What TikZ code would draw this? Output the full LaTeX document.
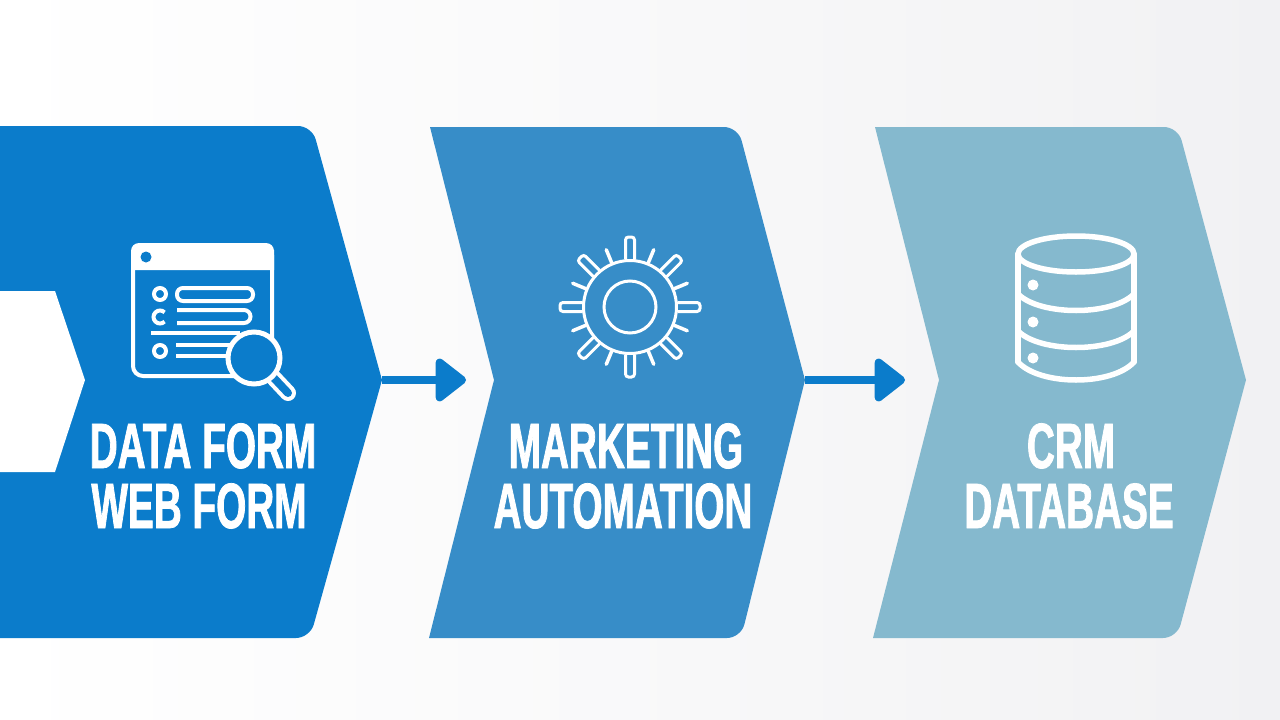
\documentclass[tikz,border=0pt]{standalone}
\usepackage{fontspec}
\usetikzlibrary{arrows.meta}
\newfontfamily\condfont[FakeStretch=0.605,FakeBold=1.2]{Liberation Sans Bold}
\definecolor{cOne}{HTML}{0B7CCB}
\definecolor{cTwo}{HTML}{378DC8}
\definecolor{cThree}{HTML}{85B9CE}
\definecolor{bgEnd}{HTML}{F1F1F3}
\tikzset{
  lbl/.style={text=white,font=\condfont\fontsize{64}{64}\selectfont,anchor=base,inner sep=0pt},
  flow/.style={cOne,line width=8pt,-{Triangle[length=33pt,width=49pt,round]},shorten >=2pt},
  ico/.style={draw=white,line width=4pt},
  thinico/.style={draw=white,line width=3pt,line cap=round},
  dbico/.style={draw=white,line width=5.5pt,line cap=round},
}
\begin{document}
\begin{tikzpicture}[x=1pt,y=-1pt]
\useasboundingbox (0,0) rectangle (1280,720);
\shade[left color=white,right color=bgEnd,middle color=white!55!bgEnd] (0,0) rectangle (1280,720);
% chevrons
\fill[cOne] (0,126) [rounded corners=14pt] -- (312,126) [sharp corners] -- (382,380) [rounded corners=14pt] -- (310,638) [sharp corners] -- (0,638) -- cycle;
\fill[white] (0,291) -- (55,291) -- (85,380) -- (55,472) -- (0,472) -- cycle;
\fill[cTwo] (430,127) [rounded corners=14pt] -- (738,127) [sharp corners] -- (805,380) [rounded corners=14pt] -- (741,638) [sharp corners] -- (429,638) -- (494,380) -- cycle;
\fill[cThree] (875,127) [rounded corners=14pt] -- (1178,127) [sharp corners] -- (1246,380) [rounded corners=14pt] -- (1177,638) [sharp corners] -- (873,638) -- (939,380) -- cycle;
% connectors
\coordinate (tipa) at (382,380);
\coordinate (enda) at (468,380);
\coordinate (tipb) at (805,380);
\coordinate (endb) at (907,380);
\draw[flow] (tipa) -- (enda);
\draw[flow] (tipb) -- (endb);
% labels
\node[lbl] (t1) at (203,468) {DATA FORM};
\node[lbl] (t2) at (199,528) {WEB FORM};
\node[lbl] (t3) at (626,468) {MARKETING};
\node[lbl] (t4) at (623,528) {AUTOMATION};
\node[lbl] (t5) at (1071,468) {CRM};
\node[lbl] (t6) at (1069,528) {DATABASE};
% form icon
\draw[ico,rounded corners=10pt] (133,245) rectangle (272,376);
\fill[white,rounded corners=8pt] (131,243) -- (274,243) -- (274,258) [sharp corners] -- (274,270) -- (131,270) -- (131,258) [rounded corners=8pt] -- cycle;
\fill[cOne] (146,257) circle (5.5pt);
\draw[ico] (160,294) circle (6pt);
\draw[ico,rounded corners=6pt] (177,288) rectangle (253,301);
\draw[ico] (164.6,312.4) arc (45:315:6.5pt);
\draw[ico] (177,310) -- (244,310) arc (90:-90:6.5pt) -- (177,323);
\draw[ico] (151,333) -- (240,333);
\draw[ico] (160,351) circle (6pt);
\draw[ico] (176,345) -- (232,345);
\draw[ico] (176,356) -- (232,356);
\draw[white,line width=16pt,line cap=round] (272,376) -- (288,393);
\draw[cOne,line width=8pt,line cap=round] (272,376) -- (288,393);
\draw[ico,line width=5pt,fill=cOne] (254,358) circle (26pt);
% gear icon
\coordinate (gc) at (630,307);
\draw[thinico] (gc) circle (46.5pt);
\draw[thinico] (gc) circle (26pt);
\foreach \a in {0,45,...,315}{
  \begin{scope}[shift={(gc)},rotate=\a]
    \draw[thinico,rounded corners=3pt] (48,-4.5) -- (70,-4.5) -- (70,4.5) -- (48,4.5);
  \end{scope}
}
\foreach \a in {22.5,67.5,...,337.5}{
  \begin{scope}[shift={(gc)},rotate=\a]
    \draw[thinico,line width=3.5pt] (48,0) -- (62,0);
  \end{scope}
}
% database icon
\draw[dbico] (1076,254) ellipse (58pt and 18pt);
\draw[dbico] (1018,254) -- (1018,362);
\draw[dbico] (1134,254) -- (1134,362);
\draw[dbico] (1018,294) .. controls (1040,316) and (1112,316) .. (1134,294);
\draw[dbico] (1018,331) .. controls (1040,353) and (1112,353) .. (1134,331);
\draw[dbico] (1018,362) .. controls (1040,386) and (1112,386) .. (1134,362);
\fill[white] (1033,285) circle (5.5pt);
\fill[white] (1033,322) circle (5.5pt);
\fill[white] (1033,358) circle (5.5pt);
\end{tikzpicture}
\end{document}
